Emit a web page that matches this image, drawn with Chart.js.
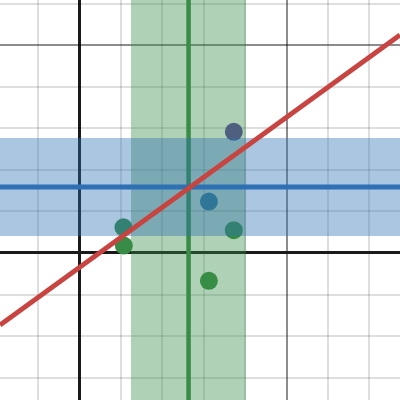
<!DOCTYPE html>
<html>
<head>
<meta charset="utf-8">
<script src="https://cdn.jsdelivr.net/npm/chart.js@4/dist/chart.umd.min.js"></script>
<style>
  html, body { margin: 0; padding: 0; background: #fff; }
  #myChart { display: block; }
</style>
</head>
<body>
<canvas id="myChart" width="400" height="400"></canvas>
<script>
// vista (unidades de la cuadricula menor)
const xMin = -1.904, xMax = 7.735;
const yMin = -3.542, yMax = 6.096;
const xTicks = [-1, 0, 1, 2, 3, 4, 5, 6, 7];
const yTicks = [-3, -2, -1, 0, 1, 2, 3, 4, 5, 6];

// puntos
const purpleX = [3.73];
const purpleY = [2.92];
const blueX = [3.13];
const blueY = [1.24];
const greenX = [3.73, 1.07, 1.08, 3.13];
const greenY = [0.55, 0.62, 0.18, -0.67];

// medias y bandas
const meanX = 2.64;
const bandX = [1.253, 4.024];
const meanY = 1.59;
const bandY = [0.41, 2.77];

// recta de regresion (extremos)
const lineX = [-1.904, 7.735];
const lineY = [-1.735, 5.253];

const GREEN = '#388c46', BLUE = '#2d70b3', RED = '#c74440', PURPLE = '#6042a6';

const toXY = (xs, ys) => xs.map((x, i) => ({ x, y: ys[i] }));

function gridColor(ctx) {
    const v = ctx.tick.value;
    if (v === 0) return '#1a1a1a';
    if (v % 5 === 0) return 'rgba(0,0,0,0.45)';
    return 'rgba(0,0,0,0.13)';
}
function gridWidth(ctx) {
    return ctx.tick.value === 0 ? 3 : 2;
}

const lineStyle = (color, width, order) => ({
    showLine: true, borderColor: color, borderWidth: width,
    pointRadius: 0, fill: false, order
});

new Chart(document.getElementById('myChart'), {
    type: 'scatter',
    data: {
        datasets: [
            // recta roja
            Object.assign({ data: toXY(lineX, lineY) }, lineStyle(RED, 5, 0)),
            // media y
            Object.assign({ data: [{ x: xMin, y: meanY }, { x: xMax, y: meanY }] }, lineStyle(BLUE, 5, 1)),
            // banda y
            {
                data: [{ x: xMin, y: bandY[1] }, { x: xMax, y: bandY[1] }],
                showLine: true, borderWidth: 0, pointRadius: 0,
                fill: { value: bandY[0] }, backgroundColor: 'rgba(45,112,179,0.4)', order: 2
            },
            // media x
            Object.assign({ data: [{ x: meanX, y: yMin }, { x: meanX, y: yMax }] }, lineStyle(GREEN, 4.5, 3)),
            // banda x
            {
                data: [{ x: bandX[0], y: yMax }, { x: bandX[1], y: yMax }],
                showLine: true, borderWidth: 0, pointRadius: 0,
                fill: 'start', backgroundColor: 'rgba(56,140,70,0.4)', order: 4
            },
            // puntos
            { data: toXY(greenX, greenY), pointRadius: 9, borderWidth: 0, backgroundColor: GREEN, order: 5 },
            { data: toXY(blueX, blueY), pointRadius: 9, borderWidth: 0, backgroundColor: BLUE, order: 6 },
            { data: toXY(purpleX, purpleY), pointRadius: 9, borderWidth: 0, backgroundColor: PURPLE, order: 7 }
        ]
    },
    options: {
        responsive: false,
        animation: false,
        devicePixelRatio: 1,
        layout: { padding: 0, autoPadding: false },
        plugins: { legend: { display: false }, tooltip: { enabled: false } },
        scales: {
            x: {
                type: 'linear', min: xMin, max: xMax,
                afterBuildTicks: s => { s.ticks = xTicks.map(v => ({ value: v })); },
                ticks: { display: false },
                border: { display: false },
                grid: { color: gridColor, lineWidth: gridWidth, drawTicks: false }
            },
            y: {
                type: 'linear', min: yMin, max: yMax,
                afterBuildTicks: s => { s.ticks = yTicks.map(v => ({ value: v })); },
                ticks: { display: false },
                border: { display: false },
                grid: { color: gridColor, lineWidth: gridWidth, drawTicks: false }
            }
        }
    }
});
</script>
</body>
</html>
